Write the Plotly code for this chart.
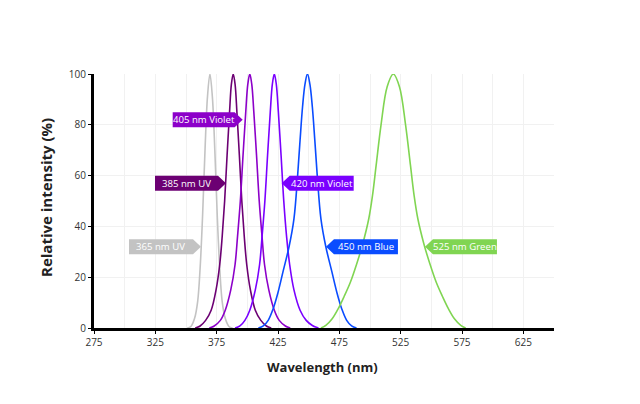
import plotly.graph_objects as go

# ---- data ----
uv365_x = [351, 354, 357, 359.5, 361.5, 363.5, 365.5, 367.5, 369.5, 371.5, 373.5, 375.5, 377.5, 379.5, 382, 385, 388]
uv365_y = [0, 0.6, 3.8, 10.4, 23.5, 44, 70, 91, 100, 91, 70, 44, 23.5, 10.4, 3.8, 0.6, 0]

uv385_x = [357.5, 361.5, 366, 370.5, 374.5, 377.5, 379.5, 381.5, 383.5, 385.5, 387, 388.5, 390, 391.5, 393.5, 395.5, 397.5, 399.5, 402.5, 406.5, 411, 415.5, 419.5]
uv385_y = [0, 0.8, 3, 7, 15, 25, 36, 50, 68, 85, 96, 100, 96, 85, 68, 50, 36, 25, 15, 7, 3, 0.8, 0]

v405_x = [369, 373, 378, 382, 386.5, 390, 392, 394.3, 396.5, 398.7, 400.4, 402, 403.6, 405.3, 407.5, 409.7, 412, 414, 417.5, 422, 426, 431, 435]
v405_y = [0, 0.8, 3, 7, 15, 25, 36, 50, 68, 85, 96, 100, 96, 85, 68, 50, 36, 25, 15, 7, 3, 0.8, 0]

v420_x = [390, 394, 398, 402, 406.5, 410, 412, 414.3, 416.5, 418.7, 420.4, 422, 423.6, 425.3, 427.5, 429.7, 432, 434.5, 438, 443, 448, 453, 458]
v420_y = [0, 0.8, 3, 7, 15, 25, 36, 50, 68, 85, 96, 100, 96, 85, 68, 50, 36, 25, 15, 7, 3, 1, 0]

b450_x = [409, 413, 417, 421, 425, 429, 434, 438, 441, 443, 445, 447, 449, 451, 453, 455, 457, 460, 464, 469, 473, 477, 481, 485, 489]
b450_y = [0, 0.8, 3, 7.5, 14, 22, 32, 43, 60, 74, 87, 96, 100, 96, 87, 74, 60, 43, 32, 22, 14, 7.5, 3, 0.8, 0]

g525_x = [460, 464, 469, 474, 479, 484, 489, 494, 499, 502, 505, 509, 514, 519, 524, 529, 533, 536, 539, 544, 549, 554, 559, 564, 569, 574, 578]
g525_y = [0, 1, 3.5, 7.5, 12.5, 18, 25, 33, 43, 52, 64, 80, 95, 100, 95, 80, 64, 52, 43, 33, 25, 18, 12.5, 7.5, 3.5, 1, 0]

series = [
    ("365 nm UV", uv365_x, uv365_y, "#c3c3c3"),
    ("385 nm UV", uv385_x, uv385_y, "#6c0073"),
    ("405 nm Violet", v405_x, v405_y, "#8c00c9"),
    ("420 nm Violet", v420_x, v420_y, "#7a00ff"),
    ("450 nm Blue", b450_x, b450_y, "#0a4cff"),
    ("525 nm Green", g525_x, g525_y, "#80d552"),
]

# label tags: text, tip wavelength, level (%), pointing side, width px
label_text = ["365 nm UV", "385 nm UV", "405 nm Violet", "420 nm Violet", "450 nm Blue", "525 nm Green"]
label_tip_x = [362.2, 382.6, 396.2, 428.0, 464.1, 544.8]
label_tip_y = [32, 57, 82, 57, 32, 32]
label_side = ["right", "right", "right", "left", "left", "left"]
label_width_px = [72, 71, 70, 72, 72, 72]
label_color = ["#c3c3c3", "#6c0073", "#8c00c9", "#7a00ff", "#0a4cff", "#80d552"]

x_ticks = [275, 325, 375, 425, 475, 525, 575, 625]
y_ticks = [0, 20, 40, 60, 80, 100]
x_range = [275, 650]
y_range = [0, 100]

# ---- layout geometry (page body adds an 8px offset) ----
W, H = 640, 404
OX, OY = 7, 8
ml, mr, mt, mb = 93 - OX, 87 + OX, 74 - OY, 76 + OY
pw = W - ml - mr
ph = H - mt - mb
px_per_nm = pw / (x_range[1] - x_range[0])
px_per_pct = ph / (y_range[1] - y_range[0])

fig = go.Figure()
for name, xs, ys, col in series:
    fig.add_trace(go.Scatter(x=xs, y=ys, mode="lines", name=name,
                             line=dict(color=col, width=1.6, shape="spline", smoothing=1.0),
                             hoverinfo="skip"))

shapes = []
annotations = []
tag_h = 15 / px_per_pct
arrow = 8 / px_per_nm
for txt, xt, yc, side, wpx, col in zip(label_text, label_tip_x, label_tip_y, label_side, label_width_px, label_color):
    wn = wpx / px_per_nm
    h2 = tag_h / 2
    if side == "right":
        path = (f"M {xt-wn},{yc-h2} L {xt-arrow},{yc-h2} L {xt},{yc} "
                f"L {xt-arrow},{yc+h2} L {xt-wn},{yc+h2} Z")
        cx = xt - arrow - (wn - arrow) / 2
    else:
        path = (f"M {xt},{yc} L {xt+arrow},{yc+h2} L {xt+wn},{yc+h2} "
                f"L {xt+wn},{yc-h2} L {xt+arrow},{yc-h2} Z")
        cx = xt + arrow + (wn - arrow) / 2
    shapes.append(dict(type="path", path=path, xref="x", yref="y",
                       fillcolor=col, line=dict(width=0), layer="above"))
    annotations.append(dict(x=cx, y=yc, xref="x", yref="y", text=txt, showarrow=False,
                            font=dict(family="Open Sans", size=9.6, color="white"),
                            xanchor="center", yanchor="middle"))

# axis titles positioned at the reference's screen locations
plot_left_screen, plot_bottom_screen = 93, 328
annotations.append(dict(x=(321.5 - plot_left_screen) / pw, y=(plot_bottom_screen - 367) / ph,
                        xref="paper", yref="paper",
                        text="<b>Wavelength (nm)</b>", showarrow=False,
                        font=dict(family="Open Sans", size=13, color="#222"),
                        xanchor="center", yanchor="middle"))
annotations.append(dict(x=(45 - plot_left_screen) / pw, y=(plot_bottom_screen - 198) / ph,
                        xref="paper", yref="paper",
                        text="<b>Relative intensity (%)</b>", showarrow=False, textangle=-90,
                        font=dict(family="Open Sans", size=15, color="#222"),
                        xanchor="center", yanchor="middle"))

fig.update_layout(
    width=W, height=H,
    margin=dict(l=ml, r=mr, t=mt, b=mb),
    paper_bgcolor="white", plot_bgcolor="white",
    showlegend=False,
    shapes=shapes, annotations=annotations,
    font=dict(family="Open Sans", size=10, color="#333"),
)
fig.update_xaxes(range=x_range, tickvals=x_ticks, ticks="outside", ticklen=3, tickcolor="black",
                 showline=True, linewidth=3, linecolor="black",
                 showgrid=True, gridcolor="#f1f1f1", gridwidth=1, zeroline=False,
                 minor=dict(dtick=25, tick0=275, showgrid=True, gridcolor="#f1f1f1", ticks=""),
                 tickfont=dict(size=10, color="#333"))
fig.update_yaxes(range=y_range, tickvals=y_ticks, ticks="outside", ticklen=3, tickcolor="black",
                 showline=True, linewidth=3, linecolor="black",
                 showgrid=True, gridcolor="#f1f1f1", gridwidth=1, zeroline=False,
                 tickfont=dict(size=10, color="#333"))

fig.write_html("out.html")
